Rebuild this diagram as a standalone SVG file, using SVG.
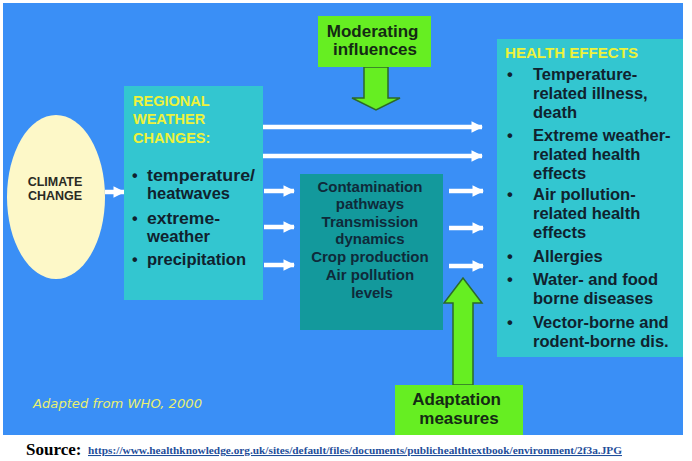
<svg xmlns="http://www.w3.org/2000/svg" width="692" height="461" viewBox="0 0 692 461">
<style>
.dark{font-family:"Liberation Sans",Arial,sans-serif;font-weight:bold;fill:#10222e}
.yel{font-family:"Liberation Sans",Arial,sans-serif;font-weight:bold;fill:#eef23a}
.wl{stroke:#ffffff;stroke-width:4.5;fill:none}
.garrow{fill:#66ee22;stroke:#2c6a2a;stroke-width:1.5}
</style>
<defs>
<marker id="wh" viewBox="0 0 10 10" refX="9" refY="5" markerWidth="2.6" markerHeight="2.6" orient="auto" markerUnits="strokeWidth">
<path d="M0,0 L10,5 L0,10 z" fill="#ffffff"/>
</marker>
</defs>
<rect x="0" y="0" width="692" height="461" fill="#ffffff"/>
<rect x="3" y="3" width="680" height="432" fill="#3a8ff6"/>

<g id="connectors">
<line class="wl" x1="105" y1="192" x2="124" y2="192" marker-end="url(#wh)"/>
<line class="wl" x1="263" y1="127" x2="482" y2="127" marker-end="url(#wh)"/>
<line class="wl" x1="263" y1="156" x2="482" y2="156" marker-end="url(#wh)"/>
<line class="wl" x1="264" y1="191" x2="294" y2="191" marker-end="url(#wh)"/>
<line class="wl" x1="264" y1="227" x2="294" y2="227" marker-end="url(#wh)"/>
<line class="wl" x1="264" y1="265" x2="294" y2="265" marker-end="url(#wh)"/>
<line class="wl" x1="449" y1="191" x2="483" y2="191" marker-end="url(#wh)"/>
<line class="wl" x1="449" y1="228" x2="483" y2="228" marker-end="url(#wh)"/>
<line class="wl" x1="449" y1="266" x2="483" y2="266" marker-end="url(#wh)"/>
<path class="garrow" d="M364,67 L388,67 L388,98 L400,98 L376,110 L352,98 L364,98 z"/>
<path class="garrow" d="M453,385 L453,303 L444,303 L463,278 L482,303 L473,303 L473,385 z"/>
</g>

<g id="climate">
<ellipse cx="56" cy="197" rx="49" ry="82" fill="#fdf8c8"/>
<text class="dark" x="55" y="186" font-size="12.5" text-anchor="middle" style="fill:#2a2a24">CLIMATE</text>
<text class="dark" x="55" y="200" font-size="12.5" text-anchor="middle" style="fill:#2a2a24">CHANGE</text>
</g>

<g id="regional">
<rect x="124" y="86" width="139" height="214" fill="#33c6d0"/>
<text class="yel" x="133" y="106" font-size="14.5">REGIONAL</text>
<text class="yel" x="133" y="124" font-size="14.5">WEATHER</text>
<text class="yel" x="133" y="143" font-size="14.5">CHANGES:</text>
<text class="dark" font-size="16">
<tspan x="132" y="181">•</tspan><tspan x="147" y="181" textLength="108" lengthAdjust="spacingAndGlyphs">temperature/</tspan>
<tspan x="147" y="199" textLength="83" lengthAdjust="spacingAndGlyphs">heatwaves</tspan>
<tspan x="132" y="224">•</tspan><tspan x="147" y="224" textLength="73" lengthAdjust="spacingAndGlyphs">extreme-</tspan>
<tspan x="147" y="242" textLength="63" lengthAdjust="spacingAndGlyphs">weather</tspan>
<tspan x="132" y="265">•</tspan><tspan x="147" y="265" textLength="99" lengthAdjust="spacingAndGlyphs">precipitation</tspan>
</text>
</g>

<g id="contamination">
<rect x="300" y="174" width="143" height="156" fill="#13999c"/>
<text class="dark" font-size="15" text-anchor="middle" style="fill:#0f2a3a">
<tspan x="372" y="192">Contamination</tspan>
<tspan x="372" y="209">pathways</tspan>
<tspan x="372" y="227">Transmission</tspan>
<tspan x="372" y="244">dynamics</tspan>
<tspan x="372" y="262">Crop production</tspan>
<tspan x="372" y="280">Air pollution</tspan>
<tspan x="372" y="298">levels</tspan>
</text>
</g>

<g id="health">
<rect x="497" y="39" width="186" height="318" fill="#33c6d0"/>
<text class="yel" x="505" y="58" font-size="15" textLength="133" lengthAdjust="spacingAndGlyphs">HEALTH EFFECTS</text>
<text class="dark" font-size="16.5">
<tspan x="507" y="80">•</tspan><tspan x="533" y="80">Temperature-</tspan>
<tspan x="533" y="99">related illness,</tspan>
<tspan x="533" y="118">death</tspan>
<tspan x="507" y="141">•</tspan><tspan x="533" y="141">Extreme weather-</tspan>
<tspan x="533" y="160">related health</tspan>
<tspan x="533" y="179">effects</tspan>
<tspan x="507" y="200">•</tspan><tspan x="533" y="200">Air pollution-</tspan>
<tspan x="533" y="219">related health</tspan>
<tspan x="533" y="238">effects</tspan>
<tspan x="507" y="262">•</tspan><tspan x="533" y="262">Allergies</tspan>
<tspan x="507" y="285">•</tspan><tspan x="533" y="285">Water- and food</tspan>
<tspan x="533" y="304">borne diseases</tspan>
<tspan x="507" y="328">•</tspan><tspan x="533" y="328">Vector-borne and</tspan>
<tspan x="533" y="347">rodent-borne dis.</tspan>
</text>
</g>

<g id="moderating">
<rect x="318" y="16" width="113" height="51" fill="#66ee22"/>
<text class="dark" font-size="17" text-anchor="middle" style="fill:#142a14">
<tspan x="375" y="37">Moderating</tspan>
<tspan x="375" y="55">influences</tspan>
</text>
</g>

<g id="adaptation">
<rect x="395" y="385" width="128" height="50" fill="#66ee22"/>
<text class="dark" font-size="17" text-anchor="middle" style="fill:#142a14">
<tspan x="459" y="405">Adaptation</tspan>
<tspan x="459" y="424">measures</tspan>
</text>
</g>

<text x="33" y="408" font-family="'DejaVu Sans',Verdana,sans-serif" font-style="italic" font-size="13" fill="#e8f070" textLength="169" lengthAdjust="spacingAndGlyphs">Adapted from WHO, 2000</text>

<text x="26" y="455" font-family="'Liberation Serif','Times New Roman',serif" font-weight="bold" font-size="17" fill="#000000">Source:</text>
<text x="88" y="454" font-family="'Liberation Serif','Times New Roman',serif" font-weight="bold" font-size="10.5" fill="#1f4e9a" text-decoration="underline" textLength="534" lengthAdjust="spacingAndGlyphs">https://www.healthknowledge.org.uk/sites/default/files/documents/publichealthtextbook/environment/2f3a.JPG</text>
</svg>
